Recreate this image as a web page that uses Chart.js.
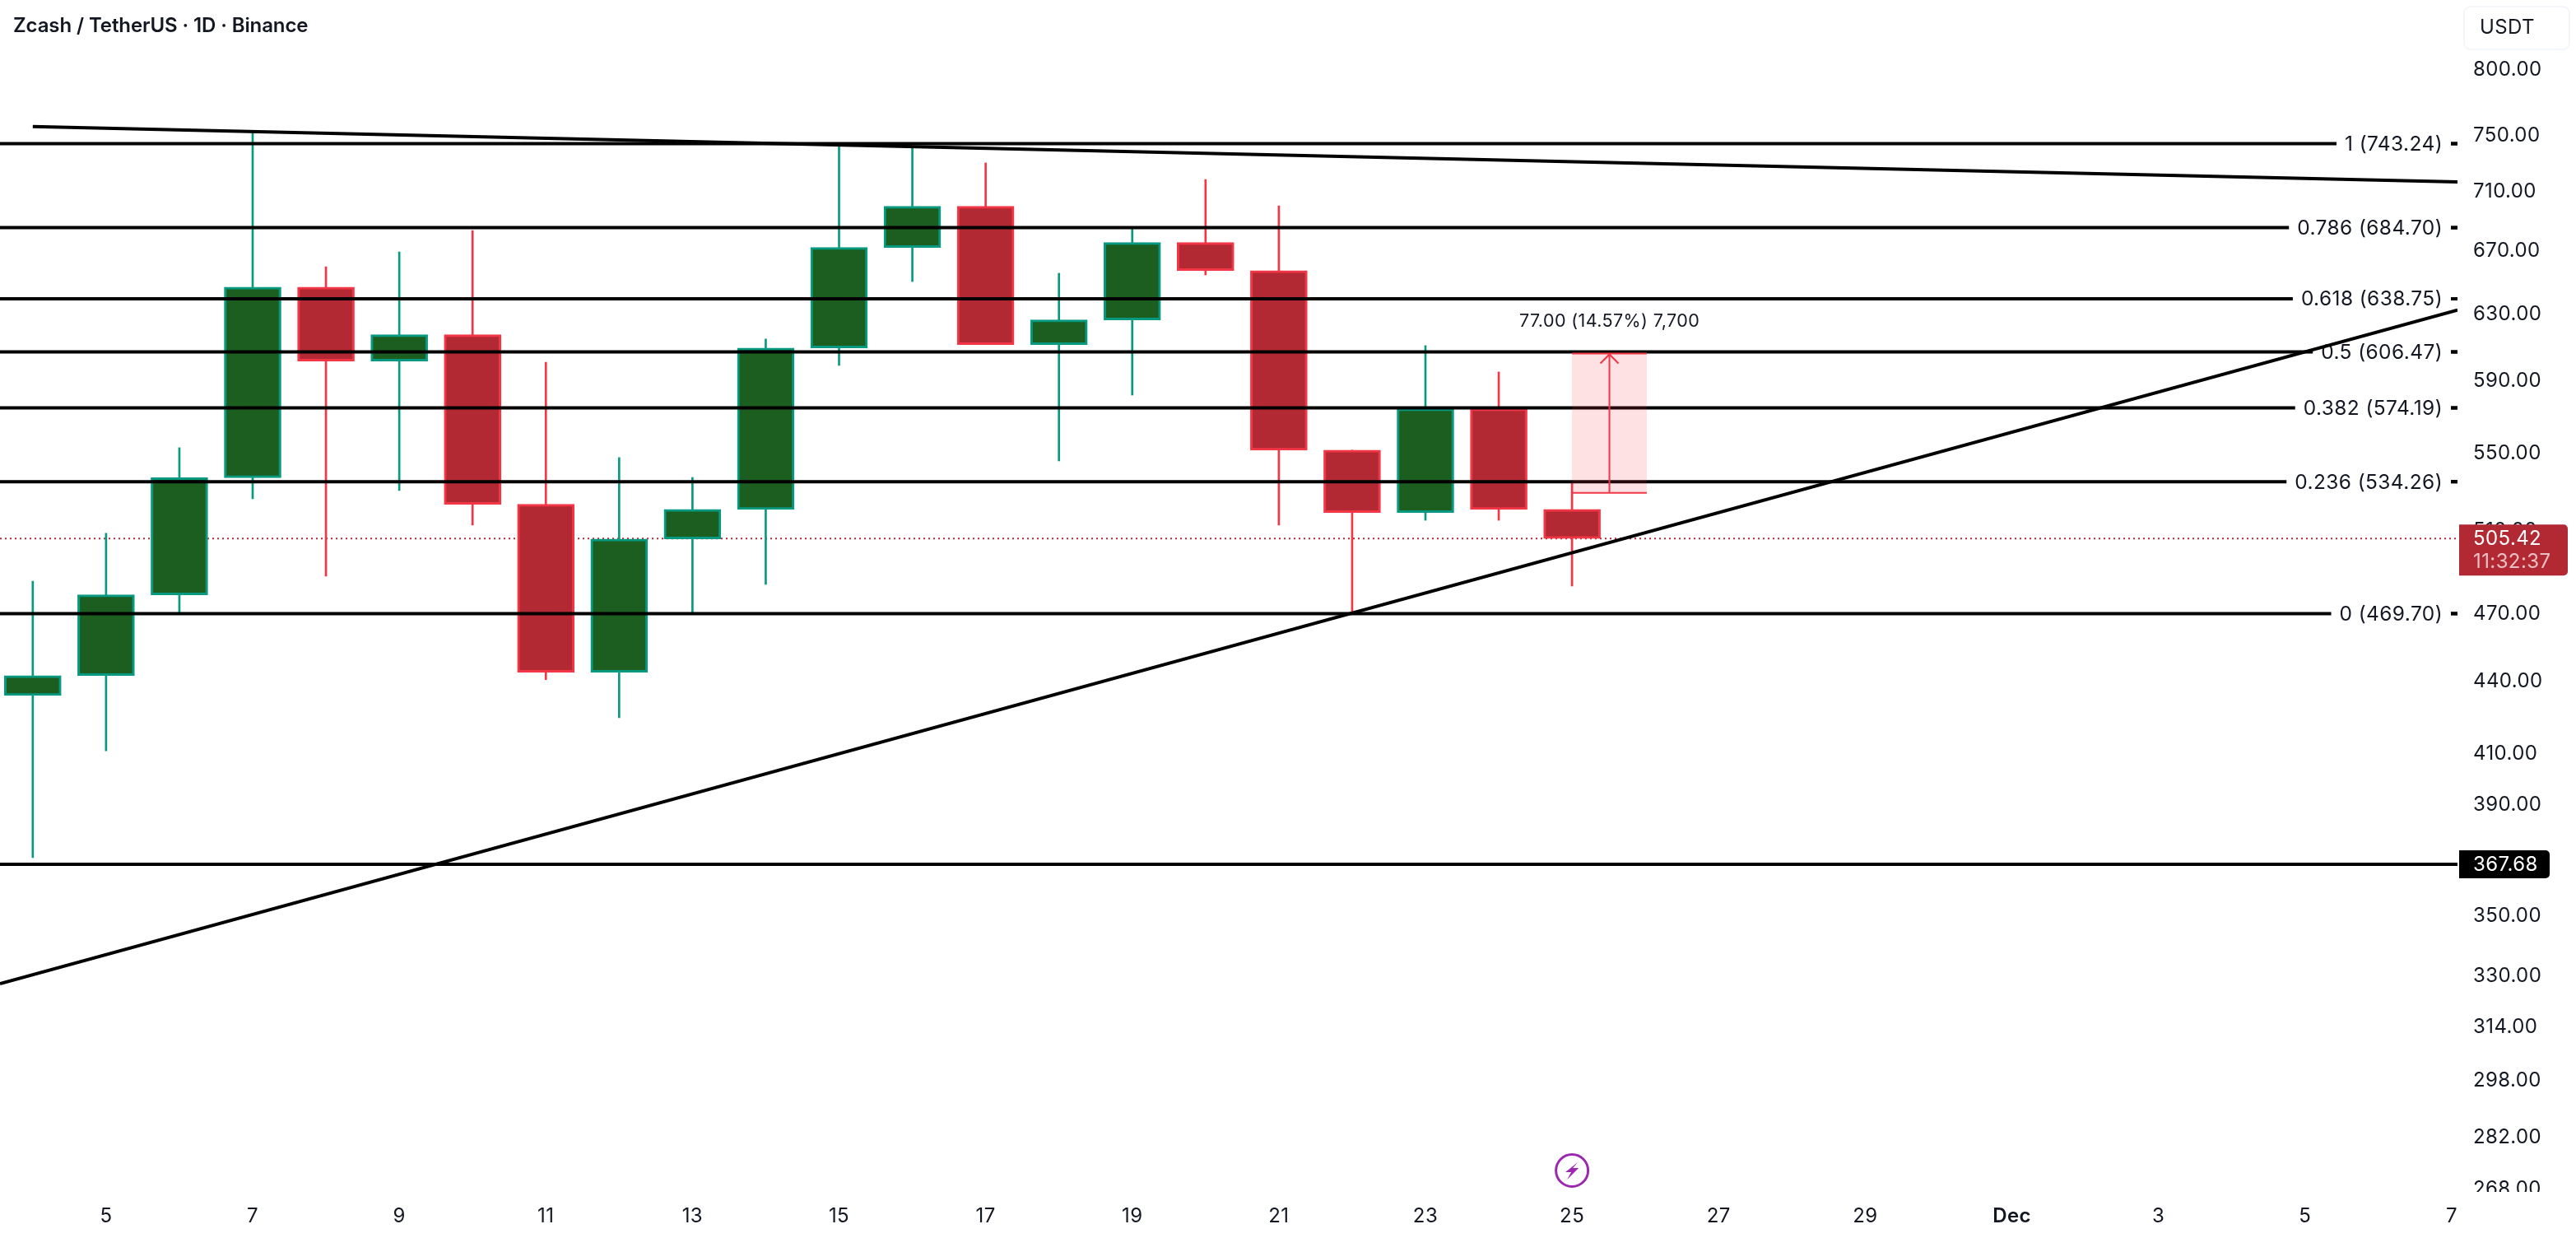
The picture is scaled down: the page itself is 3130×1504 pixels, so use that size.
<!DOCTYPE html>
<html>
<head>
<meta charset="utf-8">
<title>Zcash / TetherUS 1D</title>
<script src="https://cdn.jsdelivr.net/npm/chart.js@4/dist/chart.umd.min.js"></script>
<style>
  html, body { margin: 0; padding: 0; background: #fff; }
  canvas { display: block; }
</style>
</head>
<body>
<canvas id="chart" width="3130" height="1504"></canvas>
<script>
var days   = [4, 5, 6, 7, 8, 9, 10, 11, 12, 13, 14, 15, 16, 17, 18, 19, 20, 21, 22, 23, 24, 25];
var opens  = [433.6, 442.1, 478.4, 536.3, 646.1, 601.0, 616.7, 522.6, 443.5, 505.2, 520.0, 608.8, 671.6, 699.1, 610.8, 625.7, 674.8, 656.6, 551.0, 518.4, 573.7, 520.0];
var closes = [442.1, 478.4, 536.3, 646.1, 601.0, 616.7, 522.6, 443.5, 505.2, 520.0, 608.8, 671.6, 699.1, 610.8, 625.7, 674.8, 656.6, 551.0, 518.4, 573.7, 520.0, 505.42];
var highs  = [484.8, 508.0, 552.3, 752.0, 659.1, 668.7, 682.8, 600.4, 547.0, 536.5, 614.1, 742.4, 740.0, 729.4, 654.9, 683.9, 717.7, 699.5, 551.0, 610.2, 594.7, 534.5];
var lows   = [370.1, 410.8, 469.5, 525.4, 487.2, 529.7, 512.1, 440.3, 424.3, 469.5, 483.3, 598.5, 649.6, 610.8, 545.2, 581.4, 653.8, 512.1, 470.2, 514.5, 514.5, 482.5];

var fibRatios = ["1", "0.786", "0.618", "0.5", "0.382", "0.236", "0"];
var fibPrices = [743.24, 684.70, 638.75, 606.47, 574.19, 534.26, 469.70];

var upperTrendDays = [4, 37.08];
var upperTrendPrices = [755.8, 716.0];
var lowerTrendDays = [3.553, 37.08];
var lowerTrendPrices = [327.2, 631.8];

var supportPrice = 367.68;
var lastPrice = 505.42;
var countdown = "11:32:37";
var measureDays = [25, 26.02];
var measurePrices = [528.5, 605.5];
var measureText = "77.00 (14.57%) 7,700";
var newsDay = 25;

var yTickValues = [800, 750, 710, 670, 630, 590, 550, 510, 470, 440, 410, 390, 350, 330, 314, 298, 282, 268];
var xTickValues = [5, 7, 9, 11, 13, 15, 17, 19, 21, 23, 25, 27, 29, 31, 33, 35, 37];
var xTickLabels = ["5", "7", "9", "11", "13", "15", "17", "19", "21", "23", "25", "27", "29", "Dec", "3", "5", "7"];

var FONT = "Inter, 'Liberation Sans', sans-serif";
var TEXT = "#131722";
var GREEN_BODY = "#1b5e20", GREEN_EDGE = "#089981";
var RED_BODY = "#b22833", RED_EDGE = "#f23645";
var xMin = 3.553, xMax = 37.08, yMin = 267, yMax = 855.2;

function flatLine(price) {
  return [{ x: xMin, y: price }, { x: xMax, y: price }];
}

function trendPoints(xs, ys) {
  return xs.map(function(x, i) { return { x: x, y: ys[i] }; });
}

function noPadding(axis) {
  axis.paddingTop = axis.paddingBottom = axis.paddingLeft = axis.paddingRight = 0;
}

var datasets = [];

datasets.push({
  type: "line", label: "last", order: 12, borderColor: RED_BODY, borderWidth: 2, borderDash: [2, 4],
  pointRadius: 0, data: flatLine(lastPrice)
});
datasets.push({
  type: "bar", label: "wicks", order: 11, grouped: false, barThickness: 2,
  backgroundColor: days.map(function(d, i) { return closes[i] >= opens[i] ? GREEN_EDGE : RED_EDGE; }),
  borderWidth: 0,
  data: days.map(function(d, i) { return { x: d, y: [lows[i], highs[i]] }; })
});
datasets.push({
  type: "bar", label: "bodies", order: 10, grouped: false, barThickness: 69,
  backgroundColor: days.map(function(d, i) { return closes[i] >= opens[i] ? GREEN_BODY : RED_BODY; }),
  borderColor: days.map(function(d, i) { return closes[i] >= opens[i] ? GREEN_EDGE : RED_EDGE; }),
  borderWidth: 3, borderSkipped: false,
  data: days.map(function(d, i) { return { x: d, y: [opens[i], closes[i]] }; })
});
fibPrices.forEach(function(p, i) {
  datasets.push({
    type: "line", label: "fib" + i, order: 9, borderColor: "#000", borderWidth: 4,
    pointRadius: 0, data: flatLine(p)
  });
});
datasets.push({
  type: "line", label: "support", order: 3, borderColor: "#000", borderWidth: 4,
  pointRadius: 0, data: flatLine(supportPrice)
});
datasets.push({
  type: "line", label: "upperTrend", order: 2, borderColor: "#000", borderWidth: 4,
  pointRadius: 0, data: trendPoints(upperTrendDays, upperTrendPrices)
});
datasets.push({
  type: "line", label: "lowerTrend", order: 1, borderColor: "#000", borderWidth: 4,
  pointRadius: 0, data: trendPoints(lowerTrendDays, lowerTrendPrices)
});

function roundedLabel(ctx, x, y, w, h) {
  ctx.beginPath();
  ctx.roundRect(x, y, w, h, [0, 5, 5, 0]);
  ctx.fill();
}

// fib labels sit in a gap cut out of each level line, under the trendlines
var fibLabels = {
  id: "fibLabels",
  beforeDraw: function(chart) {
    chart.ctx.letterSpacing = "0.4px";
    // price labels sit a little lower than the canvas "middle" baseline puts them
    chart.scales.y.getLabelItems(chart.chartArea).forEach(function(item) {
      item.options.translation[1] += 1.5;
    });
  },
  afterDatasetDraw: function(chart, args) {
    // same-order datasets draw from the highest index down, so fib0 is the last one
    if (chart.data.datasets[args.index].label !== "fib0") return;
    var ctx = chart.ctx, y = chart.scales.y;
    ctx.save();
    ctx.font = "24.5px " + FONT;
    ctx.textAlign = "right";
    ctx.textBaseline = "middle";
    fibPrices.forEach(function(p, i) {
      var py = y.getPixelForValue(p);
      var text = fibRatios[i] + " (" + p.toFixed(2) + ")";
      var w = ctx.measureText(text).width;
      ctx.fillStyle = "#fff";
      ctx.fillRect(2968 - w - 10, py - 4, w + 20, 8);
      ctx.fillStyle = TEXT;
      ctx.fillText(text, 2968, py + 1);
    });
    ctx.restore();
  }
};

var overlays = {
  id: "overlays",
  afterDatasetsDraw: function(chart) {
    var ctx = chart.ctx, x = chart.scales.x, y = chart.scales.y;
    // price range measure
    var x0 = x.getPixelForValue(measureDays[0]), x1 = x.getPixelForValue(measureDays[1]);
    var yTop = y.getPixelForValue(measurePrices[1]), yBot = y.getPixelForValue(measurePrices[0]);
    var xc = (x0 + x1) / 2;
    ctx.save();
    ctx.fillStyle = "rgba(242,54,69,0.15)";
    ctx.fillRect(x0, yTop, x1 - x0, yBot - yTop);
    ctx.strokeStyle = RED_EDGE;
    ctx.lineWidth = 2;
    ctx.beginPath();
    ctx.moveTo(x0, yTop); ctx.lineTo(x1, yTop);
    ctx.moveTo(x0, yBot); ctx.lineTo(x1, yBot);
    ctx.moveTo(xc, yBot); ctx.lineTo(xc, yTop);
    ctx.moveTo(xc - 11, yTop + 12); ctx.lineTo(xc, yTop + 1); ctx.lineTo(xc + 11, yTop + 12);
    ctx.stroke();
    ctx.fillStyle = TEXT;
    ctx.font = "21.5px " + FONT;
    ctx.textAlign = "center";
    ctx.textBaseline = "middle";
    ctx.fillText(measureText, xc, yTop - 39);
    // news marker
    var nx = x.getPixelForValue(newsDay), ny = 1422;
    ctx.strokeStyle = "#9c27b0";
    ctx.fillStyle = "#9c27b0";
    ctx.lineWidth = 3;
    ctx.beginPath();
    ctx.arc(nx, ny, 19.5, 0, Math.PI * 2);
    ctx.stroke();
    ctx.beginPath();
    ctx.moveTo(nx + 7, ny - 10);
    ctx.lineTo(nx - 8, ny + 2);
    ctx.lineTo(nx - 1, ny + 2);
    ctx.lineTo(nx - 6, ny + 11);
    ctx.lineTo(nx + 8, ny - 3);
    ctx.lineTo(nx + 1, ny - 3);
    ctx.closePath();
    ctx.fill();
    ctx.restore();
  },
  afterDraw: function(chart) {
    var ctx = chart.ctx, y = chart.scales.y, area = chart.chartArea;
    ctx.save();
    // axis labels are cut at the bottom of the price pane
    ctx.fillStyle = "#fff";
    ctx.fillRect(area.right, area.bottom, 144, 1504 - area.bottom);
    // title
    ctx.fillStyle = TEXT;
    ctx.font = "600 24px " + FONT;
    ctx.letterSpacing = "-0.1px";
    ctx.textAlign = "left";
    ctx.textBaseline = "middle";
    ctx.fillText("Zcash / TetherUS \u00b7 1D \u00b7 Binance", 16, 32);
    ctx.letterSpacing = "0.4px";
    // tick marks next to fib labels
    ctx.fillStyle = "#000";
    fibPrices.forEach(function(p) {
      var py = y.getPixelForValue(p);
      ctx.fillRect(2978, py - 2, 8, 4);
    });
    // currency button
    ctx.strokeStyle = "#f0f3fa";
    ctx.lineWidth = 1.5;
    ctx.fillStyle = "#fff";
    ctx.beginPath();
    ctx.roundRect(2994, 8, 128, 52, 8);
    ctx.fill();
    ctx.stroke();
    ctx.fillStyle = TEXT;
    ctx.font = "24px " + FONT;
    ctx.fillText("USDT", 3013, 34);
    // last price tag
    var lastY = y.getPixelForValue(lastPrice);
    ctx.fillStyle = RED_BODY;
    roundedLabel(ctx, 2988, lastY - 17, 132, 62);
    ctx.fillStyle = "#fff";
    ctx.fillText(lastPrice.toFixed(2), 3005, lastY + 1);
    ctx.fillStyle = "rgba(255,255,255,0.7)";
    ctx.fillText(countdown, 3005, lastY + 29);
    // support price tag
    var supY = y.getPixelForValue(supportPrice);
    ctx.fillStyle = "#000";
    roundedLabel(ctx, 2988, supY - 17, 110, 34);
    ctx.fillStyle = "#fff";
    ctx.fillText(supportPrice.toFixed(2), 3005, supY + 1);
    ctx.restore();
  }
};

new Chart(document.getElementById("chart").getContext("2d"), {
  type: "bar",
  data: { datasets: datasets },
  plugins: [fibLabels, overlays],
  options: {
    responsive: false,
    animation: false,
    events: [],
    layout: { padding: 0, autoPadding: false },
    plugins: { legend: { display: false }, tooltip: { enabled: false }, title: { display: false } },
    scales: {
      x: {
        type: "linear",
        offset: false,
        min: xMin,
        max: xMax,
        bounds: "data",
        grid: { display: false, offset: false },
        border: { display: false },
        afterBuildTicks: function(axis) {
          axis.ticks = xTickValues.map(function(v) { return { value: v }; });
        },
        afterFit: function(axis) { axis.height = 56; noPadding(axis); },
        ticks: {
          autoSkip: false,
          maxRotation: 0,
          color: TEXT,
          padding: 7,
          font: function(ctx) {
            var isMonth = ctx.tick && ctx.tick.value === 31;
            return { family: FONT, size: 24, weight: isMonth ? "600" : "400" };
          },
          callback: function(value) {
            var i = xTickValues.indexOf(value);
            return i < 0 ? "" : xTickLabels[i];
          }
        }
      },
      y: {
        type: "logarithmic",
        position: "right",
        min: yMin,
        max: yMax,
        bounds: "data",
        grid: { display: false, drawTicks: false },
        border: { display: false },
        afterBuildTicks: function(axis) {
          axis.ticks = yTickValues.map(function(v) { return { value: v }; });
        },
        afterFit: function(axis) { axis.width = 144; noPadding(axis); },
        ticks: {
          autoSkip: false,
          color: TEXT,
          padding: 19,
          font: { family: FONT, size: 24 },
          callback: function(value) { return Number(value).toFixed(2); }
        }
      }
    }
  }
});
</script>
</body>
</html>
